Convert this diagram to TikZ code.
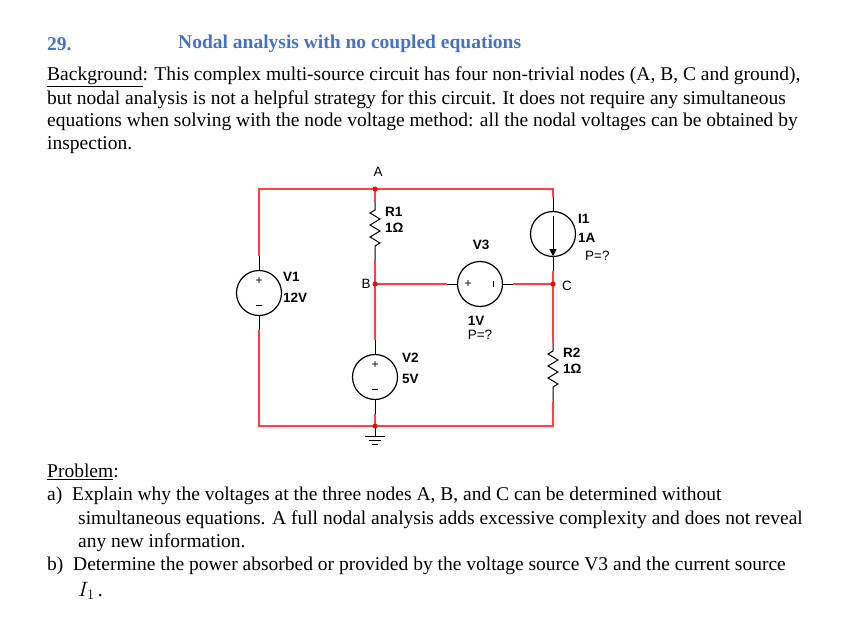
\documentclass[tikz,border=0pt]{standalone}
\usepackage{fontspec}
\setmainfont{Liberation Serif}
\newfontfamily\labelfont{Liberation Sans}
\usepackage{tikz}
\usetikzlibrary{arrows.meta,calc}

\definecolor{titleblue}{HTML}{4472C4}
\tikzset{
  wire/.style={draw=red!75,line width=1.5pt},
  lead/.style={draw=black,line width=1pt},
  src/.style={circle,draw,line width=1.2pt,minimum size=45pt,inner sep=0pt},
  dot/.style={circle,fill=red,inner sep=0pt,minimum size=5pt},
  lbl/.style={font=\labelfont\fontsize{13.5}{15}\selectfont\bfseries,align=left,inner sep=0pt},
  pol/.style={font=\labelfont\fontsize{12}{12}\selectfont,inner sep=0pt},
  txt/.style={anchor=west,inner sep=0pt,font=\fontsize{19.5}{22}\selectfont}
}
\newcommand{\zig}[2]{% resistor from #1 to #2 (vertical)
  \draw[lead] (#1) -- ++(0,8) -- ++(-5,3) -- ++(10,6) -- ++(-10,6) -- ++(10,6) -- ++(-10,6) -- ++(10,6) -- ++(-5,3) -- (#2);}

\begin{document}
\begin{tikzpicture}[x=1pt,y=-1pt]
\useasboundingbox (0,0) rectangle (853,636);

\node[txt,font=\fontsize{19.5}{22}\selectfont\bfseries,text=titleblue] (num) at (47,44) {29.};
\node[txt,font=\fontsize{19.5}{22}\selectfont\bfseries,text=titleblue] (title) at (178,44) {Nodal analysis with no coupled equations};
\node[txt] (bg1) at (47,77) {\underline{Background}: This complex multi-source circuit has four non-trivial nodes (A, B, C and ground),};
\node[txt] (bg2) at (47,100) {but nodal analysis is not a helpful strategy for this circuit. It does not require any simultaneous};
\node[txt] (bg3) at (47,122) {equations when solving with the node voltage method: all the nodal voltages can be obtained by};
\node[txt] (bg4) at (47,145) {inspection.};

% nodes of the circuit
\coordinate (tl) at (259,189);
\coordinate (A) at (375,189);
\coordinate (tr) at (553,189);
\coordinate (B) at (375,284);
\coordinate (C) at (553,284);
\coordinate (bl) at (259,426);
\coordinate (G) at (375,426);
\coordinate (br) at (553,426);

\node[src] (V1) at (259,293) {};
\node[src] (V2) at (375,377) {};
\node[src] (V3) at (480,284) {};
\node[src] (I1) at (553,234) {};

\coordinate (r1a) at (375,202);
\coordinate (r1b) at (375,260);
\coordinate (r2a) at (553,343);
\coordinate (r2b) at (553,402);

\path[wire] ($(V1.north)+(0,-14)$) |- (A) -| ($(I1.north)+(0,-14)$);
\path[wire] (A) -- (r1a);
\path[wire] (r1b) -- (B) -- ($(V2.north)+(0,-14)$);
\path[wire] (B) -- ($(V3.west)+(-10,0)$);
\path[wire] ($(V3.east)+(10,0)$) -- (C) -- ($(I1.south)+(0,14)$);
\path[wire] (C) -- (r2a);
\path[wire] (r2b) -- (br) -| ($(V1.south)+(0,14)$);
\path[wire] ($(V2.south)+(0,14)$) -- (G);

\draw[lead] (V1.north) -- ++(0,-14) (V1.south) -- ++(0,14);
\draw[lead] (V2.north) -- ++(0,-14) (V2.south) -- ++(0,14);
\draw[lead] (V3.west) -- ++(-10,0) (V3.east) -- ++(10,0);
\draw[lead] (I1.north) -- ++(0,-14) (I1.south) -- ++(0,14);
\draw[lead,-{Triangle[length=7pt,width=7pt]}] ($(I1.north)+(0,5)$) -- ($(I1.south)+(0,-1)$);
\zig{r1a}{r1b}
\zig{r2a}{r2b}

% polarity marks
\node[pol] (p1) at ($(V1)+(0,-12)$) {+};
\node[pol] (m1) at ($(V1)+(0,12)$) {\rule{6pt}{0.8pt}};
\node[pol] (p2) at ($(V2)+(0,-12)$) {+};
\node[pol] (m2) at ($(V2)+(0,12)$) {\rule{6pt}{0.8pt}};
\node[pol] (p3) at ($(V3)+(-12,0)$) {+};
\node[pol] (m3) at ($(V3)+(13,0)$) {\rule{0.8pt}{6pt}};

% ground
\draw[lead] (G) -- ++(0,10) ++(-10,0) -- ++(20,0) ++(-16,4) -- ++(12,0) ++(-9,4) -- ++(6,0);

\node[dot] at (A) {};
\node[dot] at (B) {};
\node[dot] at (C) {};
\node[dot] at (G) {};

% labels
\node[lbl,font=\labelfont\fontsize{13.5}{15}\selectfont] (la) at (378,172) {A};
\node[lbl,font=\labelfont\fontsize{13.5}{15}\selectfont] (lb) at (366,284) {B};
\node[lbl,font=\labelfont\fontsize{13.5}{15}\selectfont] (lc) at (567,286) {C};
\node[lbl,anchor=west] (lr1) at (385,220) {R1\\[1pt]1Ω};
\node[lbl,anchor=west] (lr2) at (563,361) {R2\\[1pt]1Ω};
\node[lbl,anchor=west] (lv1) at (283,287) {V1\\[6pt]12V};
\node[lbl,anchor=west] (lv2) at (402,368) {V2\\[6pt]5V};
\node[lbl] (lv3) at (481,245) {V3};
\node[lbl] (lv3b) at (480,328) {1V\\[-1pt]\mdseries P=?};
\node[lbl,anchor=west] (li1) at (578,228) {I1\\[4pt]1A};
\node[lbl,anchor=west,font=\labelfont\fontsize{13.5}{15}\selectfont] (pi1) at (585,256) {P=?};

\node[txt] (pr) at (47,472) {\underline{Problem}:};
\node[txt] (pa1) at (47,496) {a)\ \ Explain why the voltages at the three nodes A, B, and C can be determined without};
\node[txt] (pa2) at (78,520) {simultaneous equations. A full nodal analysis adds excessive complexity and does not reveal};
\node[txt] (pa3) at (78,543) {any new information.};
\node[txt] (pb1) at (47,566) {b)\ \ Determine the power absorbed or provided by the voltage source V3 and the current source};
\node[txt] (pb2) at (78,591) {$I_1$\,.};
\end{tikzpicture}
\end{document}
